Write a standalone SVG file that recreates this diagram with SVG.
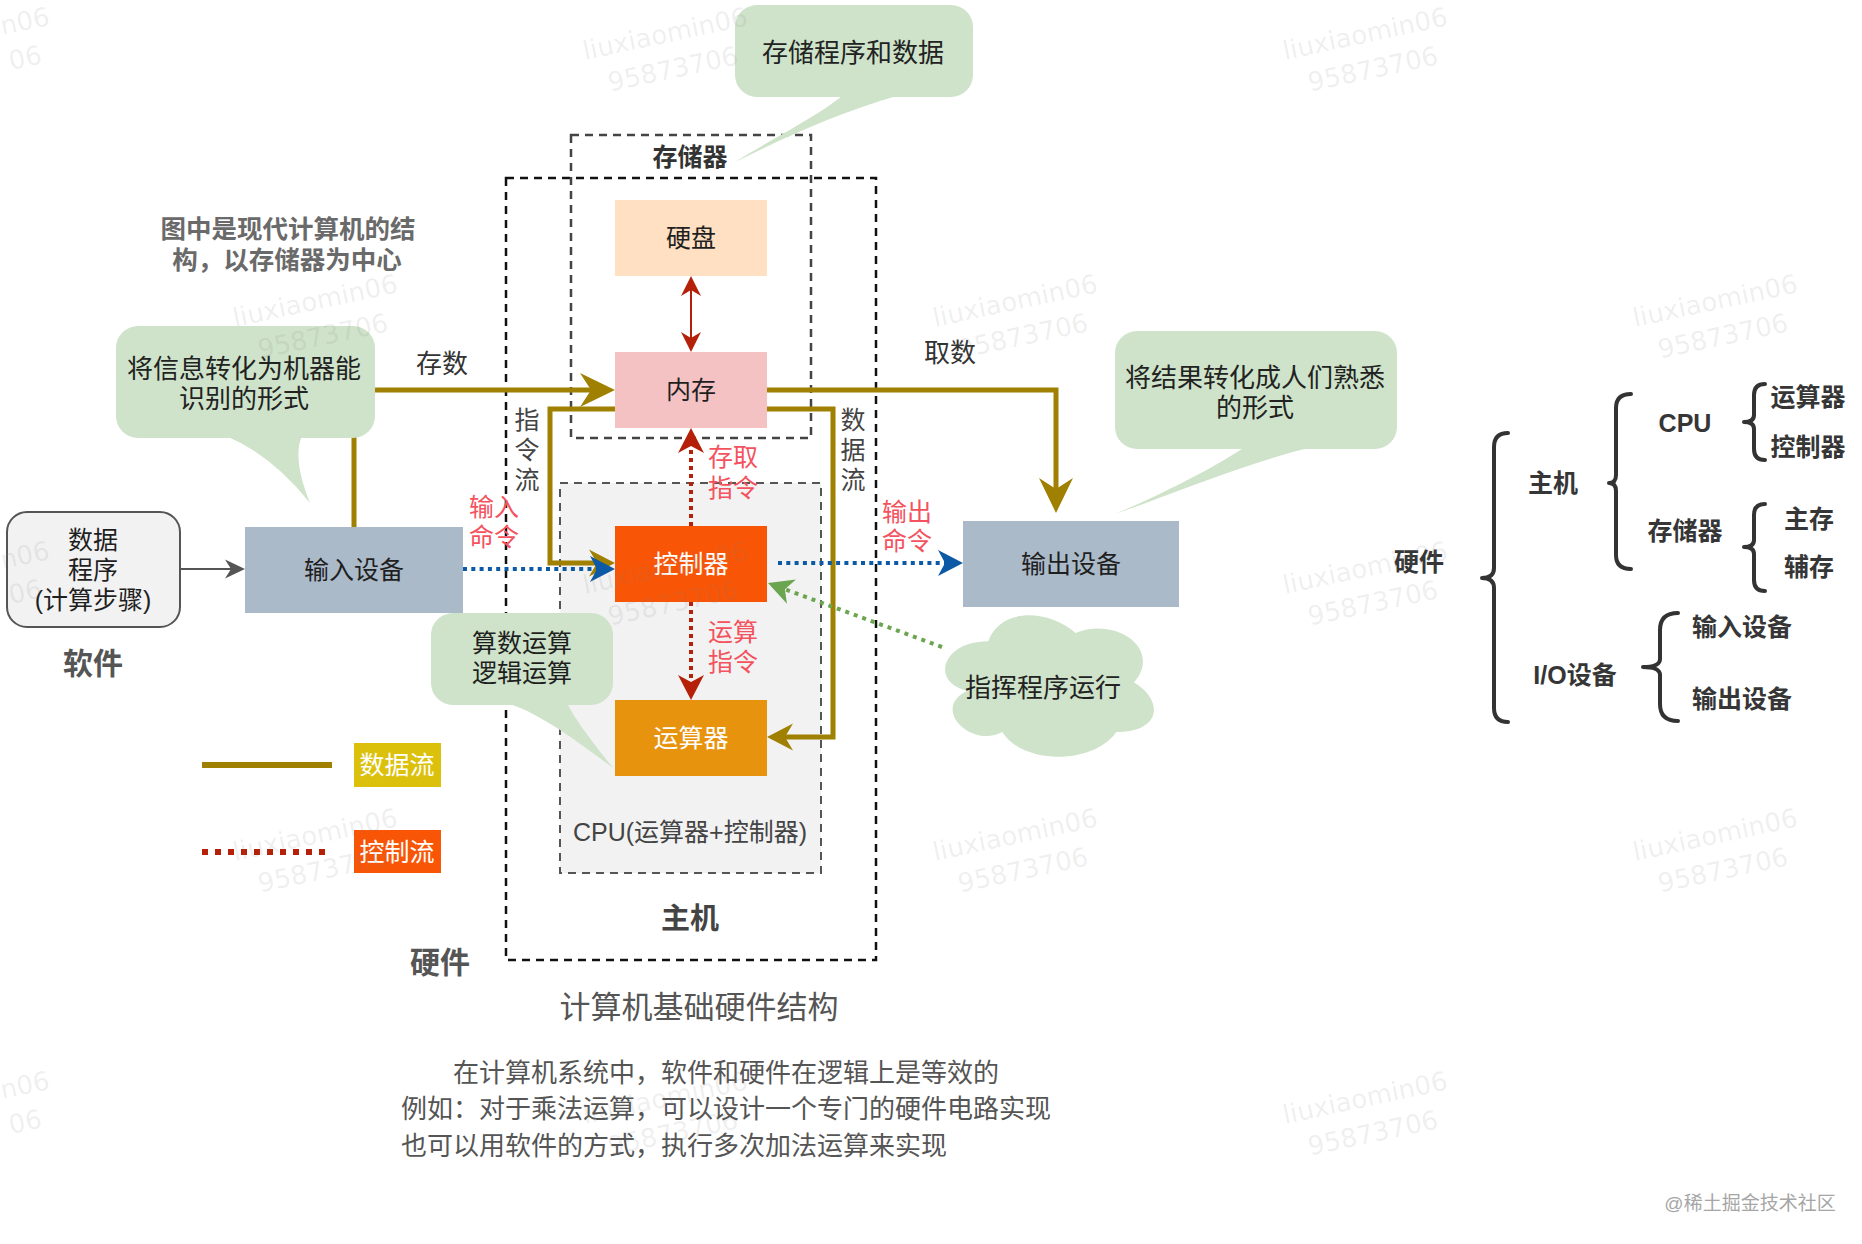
<svg xmlns="http://www.w3.org/2000/svg" width="1862" height="1244" viewBox="0 0 1862 1244">
<defs>
<style>
text{font-family:"Liberation Sans","Noto Sans CJK SC",sans-serif;text-anchor:middle}
.l25{font-size:25px;fill:#1f1f1f}
.l26{font-size:26px;fill:#222}
.w25{font-size:25px;fill:#fff}
.red{font-size:25px;fill:#f4525e}
.gray{font-size:25px;fill:#444}
.bold{font-weight:bold}
.tree{font-size:25px;font-weight:bold;fill:#363636}
.par{font-size:26px;fill:#555}
.olive{fill:none;stroke:#a08000;stroke-width:5}
.blue{fill:none;stroke:#0c5aa6;stroke-width:4;stroke-dasharray:4 4.3}
.reddot{fill:none;stroke:#b52108;stroke-width:4;stroke-dasharray:4 4}
.callout{fill:#cee3c9}
.dash{fill:none;stroke-width:2.5;stroke-dasharray:8 6}
.brace{fill:none;stroke:#333;stroke-width:4;stroke-linecap:round;stroke-linejoin:round}
.wm text{font-family:"DejaVu Sans",sans-serif;font-size:26px;fill:#808080;fill-opacity:0.13;text-anchor:start}
</style>
<marker id="mOliveL" markerUnits="userSpaceOnUse" markerWidth="40" markerHeight="40" refX="0" refY="0" orient="auto" overflow="visible"><path d="M10,0 L-25,-17 L-14,0 L-25,17 Z" fill="#a08000"/></marker>
<marker id="mOliveS" markerUnits="userSpaceOnUse" markerWidth="30" markerHeight="30" refX="0" refY="0" orient="auto" overflow="visible"><path d="M8,0 L-18,-13.5 L-10,0 L-18,13.5 Z" fill="#a08000"/></marker>
<marker id="mBlue" markerUnits="userSpaceOnUse" markerWidth="30" markerHeight="30" refX="0" refY="0" orient="auto" overflow="visible"><path d="M8,0 L-17,-13 L-10,0 L-17,13 Z" fill="#0c5aa6"/></marker>
<marker id="mRed" markerUnits="userSpaceOnUse" markerWidth="30" markerHeight="30" refX="0" refY="0" orient="auto" overflow="visible"><path d="M8,0 L-17,-13 L-10,0 L-17,13 Z" fill="#b52108"/></marker>
<marker id="mRedThin" markerUnits="userSpaceOnUse" markerWidth="24" markerHeight="24" refX="0" refY="0" orient="auto-start-reverse" overflow="visible"><path d="M5,0 L-15,-10 L-9,0 L-15,10 Z" fill="#b52108"/></marker>
<marker id="mGray" markerUnits="userSpaceOnUse" markerWidth="24" markerHeight="24" refX="0" refY="0" orient="auto" overflow="visible"><path d="M5,0 L-15,-9.5 L-9,0 L-15,9.5 Z" fill="#555"/></marker>
<marker id="mGreen" markerUnits="userSpaceOnUse" markerWidth="30" markerHeight="30" refX="0" refY="0" orient="auto" overflow="visible"><path d="M8,0 L-17,-13 L-10,0 L-17,13 Z" fill="#6ca54f"/></marker>
</defs>
<rect width="1862" height="1244" fill="#fff"/>

<g id="containers">
<rect id="host" x="506" y="178" width="370" height="782" class="dash" stroke="#111"/>
<rect id="storage" x="571" y="135" width="240" height="303" class="dash" stroke="#444"/>
<rect id="cpu" x="560" y="483" width="261" height="390" fill="#f2f2f2" stroke="#555" stroke-width="2" stroke-dasharray="8 6"/>
</g>

<g id="connectors">
<path class="olive" d="M354,527 L354,390 L605,390" marker-end="url(#mOliveL)"/>
<path class="olive" d="M767,390 L1056,390 L1056,503" marker-end="url(#mOliveL)"/>
<path class="olive" d="M615,409 L550,409 L550,563 L607,563" marker-end="url(#mOliveS)"/>
<path class="olive" d="M767,409 L833,409 L833,737 L775,737" marker-end="url(#mOliveS)"/>
<path class="blue" d="M463,569 L607,569" marker-end="url(#mBlue)"/>
<path class="blue" d="M778,563 L955,563" marker-end="url(#mBlue)"/>
<path class="reddot" d="M691,526 L691,436" marker-end="url(#mRed)"/>
<path class="reddot" d="M691,602 L691,692" marker-end="url(#mRed)"/>
<path d="M691,281 L691,347" fill="none" stroke="#b52108" stroke-width="2" marker-start="url(#mRedThin)" marker-end="url(#mRedThin)"/>
<path d="M180,569 L240,569" fill="none" stroke="#555" stroke-width="2" marker-end="url(#mGray)"/>
<path d="M942,647 L775.5,585.8" fill="none" stroke="#6ca54f" stroke-width="4" stroke-dasharray="4 5" marker-end="url(#mGreen)"/>
</g>

<g id="node-disk"><rect x="615" y="200" width="152" height="76" fill="#ffe0c2"/><text class="l25" x="691" y="247">硬盘</text></g>
<g id="node-memory"><rect x="615" y="352" width="152" height="76" fill="#f4c2c2"/><text class="l25" x="691" y="399">内存</text></g>
<g id="node-controller"><rect x="615" y="526" width="152" height="76" fill="#f95506"/><text class="w25" x="691" y="573">控制器</text></g>
<g id="node-alu"><rect x="615" y="700" width="152" height="76" fill="#e8930e"/><text class="w25" x="691" y="747">运算器</text></g>
<g id="node-input"><rect x="245" y="527" width="218" height="86" fill="#abbac9"/><text class="l25" x="354" y="579">输入设备</text></g>
<g id="node-output"><rect x="963" y="521" width="216" height="86" fill="#abbac9"/><text class="l25" x="1071" y="573">输出设备</text></g>
<g id="node-software"><rect x="7" y="512" width="173" height="115" rx="20" fill="#f2f2f2" stroke="#555" stroke-width="2"/>
<text class="l25" x="93" y="549" fill="#333">数据</text><text class="l25" x="93" y="579">程序</text><text class="l25" x="93" y="609">(计算步骤)</text></g>

<g id="callout-storage"><rect class="callout" x="735" y="5" width="238" height="92" rx="22"/><path class="callout" d="M843,95 C820,115 770,140 735,162 C790,135 840,112 900,95 Z"/><text class="l26" x="853" y="61.5">存储程序和数据</text></g>
<g id="callout-input"><rect class="callout" x="116" y="326" width="259" height="112" rx="22"/><path class="callout" d="M226,436 Q272,455 310,503 Q292,458 302,436 Z"/><text class="l26" x="244" y="377.5">将信息转化为机器能</text><text class="l26" x="244" y="407.5">识别的形式</text></g>
<g id="callout-output"><rect class="callout" x="1115" y="331" width="282" height="118" rx="22"/><path class="callout" d="M1245,447 C1210,470 1160,495 1115,514 C1170,495 1240,465 1312,447 Z"/><text class="l26" x="1255" y="386.5">将结果转化成人们熟悉</text><text class="l26" x="1255" y="416.5">的形式</text></g>
<g id="callout-alu"><rect class="callout" x="431" y="613" width="182" height="92" rx="22"/><path class="callout" d="M505,703 C530,708 570,735 613,768 C595,745 575,720 567,703 Z"/><text class="l25" x="522" y="652">算数运算</text><text class="l25" x="522" y="682">逻辑运算</text></g>
<g id="cloud-control"><path class="callout" d="M988.25,641.25 C941.65,641.25 930,682.5 967.3,690.75 C930,708.9 971.9,748.5 1002.2,732 C1023.2,765 1093.1,765 1116.4,732 C1163,732 1163,699 1133.9,682.5 C1163,649.5 1116.4,616.5 1075.6,633 C1046.5,608.25 999.9,608.25 988.25,641.25 Z"/><text class="l26" x="1043" y="696.5">指挥程序运行</text></g>

<g id="labels">
<text class="bold" x="690" y="166" font-size="25" fill="#333">存储器</text>
<text class="bold" x="288" y="238" font-size="25.5" fill="#6a6a6a">图中是现代计算机的结</text>
<text class="bold" x="287" y="269" font-size="25.5" fill="#6a6a6a">构，以存储器为中心</text>
<text x="442" y="372.5" font-size="26" fill="#333">存数</text>
<text x="950" y="361.5" font-size="26" fill="#333">取数</text>
<text class="red" x="733" y="466">存取</text><text class="red" x="733" y="497">指令</text>
<text class="red" x="733" y="641">运算</text><text class="red" x="733" y="671">指令</text>
<text class="red" x="494" y="516">输入</text><text class="red" x="494" y="546">命令</text>
<text class="red" x="907" y="521">输出</text><text class="red" x="907" y="550">命令</text>
<text class="gray" x="527" y="429">指</text><text class="gray" x="527" y="459">令</text><text class="gray" x="527" y="489">流</text>
<text class="gray" x="853" y="429">数</text><text class="gray" x="853" y="459">据</text><text class="gray" x="853" y="489">流</text>
<text class="gray" x="690" y="841">CPU(运算器+控制器)</text>
<text class="bold" x="690" y="928.5" font-size="29" fill="#444">主机</text>
<text class="bold" x="93" y="674" font-size="30" fill="#555">软件</text>
<text class="bold" x="440" y="973" font-size="30" fill="#555">硬件</text>
</g>

<g id="legend">
<line x1="202" y1="765" x2="332" y2="765" stroke="#a08000" stroke-width="6"/>
<rect x="354" y="743" width="87" height="44" fill="#dcc10c"/><text class="w25" x="397" y="774">数据流</text>
<line x1="202" y1="852" x2="330" y2="852" stroke="#b52108" stroke-width="6" stroke-dasharray="6 7"/>
<rect x="354" y="830" width="87" height="43" fill="#f95506"/><text class="w25" x="397" y="861">控制流</text>
</g>

<g id="caption">
<text x="699" y="1018" font-size="31" fill="#555">计算机基础硬件结构</text>
<text class="par" x="726" y="1082">在计算机系统中，软件和硬件在逻辑上是等效的</text>
<text class="par" x="726" y="1117.5">例如：对于乘法运算，可以设计一个专门的硬件电路实现</text>
<text class="par" x="401" y="1154.5" style="text-anchor:start">也可以用软件的方式，执行多次加法运算来实现</text>
</g>

<g id="tree">
<text class="tree" x="1419" y="571" font-size="26" fill="#444">硬件</text>
<path class="brace" d="M1508,433 Q1494,433 1494,447 L1494,568 Q1494,578 1482,578 Q1494,578 1494,588 L1494,708 Q1494,722 1508,722"/>
<text class="tree" x="1553" y="492">主机</text>
<text class="tree" x="1575" y="684">I/O设备</text>
<path class="brace" d="M1631,394 Q1616,394 1616,408 L1616,475 Q1616,483 1609,483 Q1616,483 1616,491 L1616,555 Q1616,569 1631,569"/>
<text class="tree" x="1685" y="432">CPU</text>
<text class="tree" x="1685" y="540">存储器</text>
<path class="brace" d="M1765,384 Q1754,384 1754,395 L1754,415 Q1754,422 1744,422 Q1754,422 1754,429 L1754,449 Q1754,460 1765,460"/>
<text class="tree" x="1808" y="406">运算器</text>
<text class="tree" x="1808" y="456">控制器</text>
<path class="brace" d="M1765,504 Q1754,504 1754,515 L1754,540 Q1754,547 1744,547 Q1754,547 1754,554 L1754,580 Q1754,591 1765,591"/>
<text class="tree" x="1809" y="528">主存</text>
<text class="tree" x="1809" y="576">辅存</text>
<path class="brace" d="M1678,613 Q1660,613 1660,630 L1660,659 Q1660,667 1643,667 Q1660,667 1660,675 L1660,704 Q1660,721 1678,721"/>
<text class="tree" x="1742" y="636">输入设备</text>
<text class="tree" x="1742" y="708">输出设备</text>
</g>

<text x="1750" y="1210" font-size="19" fill="#a6a6a6">@稀土掘金技术社区</text>

<g id="watermark" class="wm">
<g transform="translate(-115,60) rotate(-12)"><text x="120" y="0">n06</text><text x="121" y="36">06</text></g>
<g transform="translate(585,60) rotate(-12)"><text x="0" y="0">liuxiaomin06</text><text x="18" y="36">95873706</text></g>
<g transform="translate(1285,60) rotate(-12)"><text x="0" y="0">liuxiaomin06</text><text x="18" y="36">95873706</text></g>
<g transform="translate(235,327) rotate(-12)"><text x="0" y="0">liuxiaomin06</text><text x="18" y="36">95873706</text></g>
<g transform="translate(935,327) rotate(-12)"><text x="0" y="0">liuxiaomin06</text><text x="18" y="36">95873706</text></g>
<g transform="translate(1635,327) rotate(-12)"><text x="0" y="0">liuxiaomin06</text><text x="18" y="36">95873706</text></g>
<g transform="translate(-115,594) rotate(-12)"><text x="120" y="0">n06</text><text x="121" y="36">06</text></g>
<g transform="translate(585,594) rotate(-12)"><text x="0" y="0">liuxiaomin06</text><text x="18" y="36">95873706</text></g>
<g transform="translate(1285,594) rotate(-12)"><text x="0" y="0">liuxiaomin06</text><text x="18" y="36">95873706</text></g>
<g transform="translate(235,861) rotate(-12)"><text x="0" y="0">liuxiaomin06</text><text x="18" y="36">95873706</text></g>
<g transform="translate(935,861) rotate(-12)"><text x="0" y="0">liuxiaomin06</text><text x="18" y="36">95873706</text></g>
<g transform="translate(1635,861) rotate(-12)"><text x="0" y="0">liuxiaomin06</text><text x="18" y="36">95873706</text></g>
<g transform="translate(-115,1124) rotate(-12)"><text x="120" y="0">n06</text><text x="121" y="36">06</text></g>
<g transform="translate(585,1124) rotate(-12)"><text x="0" y="0">liuxiaomin06</text><text x="18" y="36">95873706</text></g>
<g transform="translate(1285,1124) rotate(-12)"><text x="0" y="0">liuxiaomin06</text><text x="18" y="36">95873706</text></g>
</g>
</svg>
